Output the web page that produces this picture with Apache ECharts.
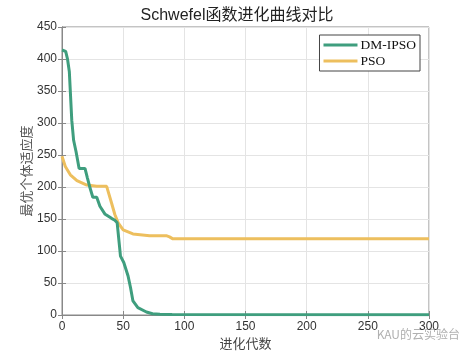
<!DOCTYPE html>
<html><head><meta charset="utf-8">
<script src="https://cdn.jsdelivr.net/npm/echarts@6/dist/echarts.min.js"></script>
<style>html,body{margin:0;padding:0;background:#fff;}#c{width:474px;height:355px;}</style>
</head><body><div id="c"></div>
<script>
const titleText = 'Schwefel函数进化曲线对比';
const xName = '进化代数';
const yName = '最优个体适应度';
const seriesNames = ['DM-IPSO', 'PSO'];
const dmX = [0, 3, 4.5, 6, 8, 9.5, 11.5, 14, 18.8, 20.8, 23, 25.2, 28.4, 31, 35, 40.5, 43.2, 45.1, 46.7, 47.8, 50.5, 54, 56, 58, 62, 69, 74, 80, 90, 300];
const dmY = [414, 412, 400, 380, 304, 273, 255, 229, 229, 214, 198, 184, 184, 170, 158, 151, 148, 144, 113, 92, 82, 61, 43, 22, 11.5, 4.7, 2, 1, 0.6, 0.5];
const psoX = [0, 1, 2.7, 6.8, 12.2, 20.3, 28.4, 36.5, 37.8, 40.5, 43.2, 45.9, 50, 58, 71.6, 85.2, 87.9, 90.6, 300];
const psoY = [248, 251, 232, 219, 210, 203, 201, 201, 198, 175, 157, 144, 133, 126.6, 124, 124, 122, 119, 119];
const watermark = 'KAU的云实验台';

const pair = (xs, ys) => xs.map((x, i) => [x, ys[i]]);
const chart = echarts.init(document.getElementById('c'));
const labelFont = {color: '#333', fontSize: 12, fontFamily: 'Liberation Sans, Arial, sans-serif'};
chart.setOption({
  animation: false,
  backgroundColor: '#fff',
  title: {text: titleText, left: 'center', top: 3,
    textStyle: {fontSize: 16, fontWeight: 'normal', color: '#222', fontFamily: 'Liberation Sans, Noto Sans CJK SC, sans-serif'}},
  grid: {left: 62, right: 45, top: 27, bottom: 40, show: true, borderColor: '#888', borderWidth: 1},
  legend: {orient: 'vertical', right: 54, top: 35, data: seriesNames, icon: 'rect', itemWidth: 34, itemHeight: 3,
    itemGap: 2, padding: [3, 4, 3, 4], borderColor: '#444', borderWidth: 1, backgroundColor: '#fff',
    textStyle: {fontFamily: 'Liberation Serif, Times New Roman, serif', fontSize: 13.5, color: '#111', padding: [0, 0, 0, -2]}},
  xAxis: [{type: 'value', min: 0, max: 300, interval: 50, name: xName, nameLocation: 'middle', nameGap: 22, nameMoveOverlap: false,
    nameTextStyle: {fontSize: 13, color: '#444', fontFamily: 'Noto Sans CJK SC'},
    axisLine: {lineStyle: {color: '#888'}}, axisTick: {inside: true, length: 4, lineStyle: {color: '#888'}},
    axisLabel: Object.assign({margin: 6}, labelFont), splitLine: {show: true, lineStyle: {color: '#e4e4e4'}}},
    {type: 'value', min: 0, max: 300, interval: 50, position: 'top', axisLine: {lineStyle: {color: '#888'}},
    axisTick: {inside: true, length: 4, lineStyle: {color: '#888'}}, axisLabel: {show: false}, splitLine: {show: false}}],
  yAxis: [{type: 'value', min: 0, max: 450, interval: 50, name: yName, nameLocation: 'middle', nameGap: 29, nameRotate: 90, nameMoveOverlap: false,
    nameTextStyle: {fontSize: 13, color: '#555', fontFamily: 'Noto Sans CJK SC'},
    axisLine: {show: true, lineStyle: {color: '#888'}}, axisTick: {show: true, inside: true, length: 4, lineStyle: {color: '#888'}},
    axisLabel: Object.assign({margin: 5}, labelFont), splitLine: {show: true, lineStyle: {color: '#e4e4e4'}}},
    {type: 'value', min: 0, max: 450, interval: 50, position: 'right', axisLine: {show: true, lineStyle: {color: '#888'}},
    axisTick: {show: true, inside: true, length: 4, lineStyle: {color: '#888'}}, axisLabel: {show: false}, splitLine: {show: false}}],
  series: [
    {name: seriesNames[0], type: 'line', data: pair(dmX, dmY), showSymbol: false, lineStyle: {width: 3, color: '#3f9e7e'}, itemStyle: {color: '#3f9e7e'}, z: 3},
    {name: seriesNames[1], type: 'line', data: pair(psoX, psoY), showSymbol: false, lineStyle: {width: 3, color: '#edbf5e'}, itemStyle: {color: '#edbf5e'}, z: 2}
  ],
  graphic: [{type: 'text', right: 14, top: 328, style: {text: watermark, fill: '#b0b0b0', fontSize: 12, fontFamily: 'Noto Sans CJK SC'}}]
});
</script></body></html>
